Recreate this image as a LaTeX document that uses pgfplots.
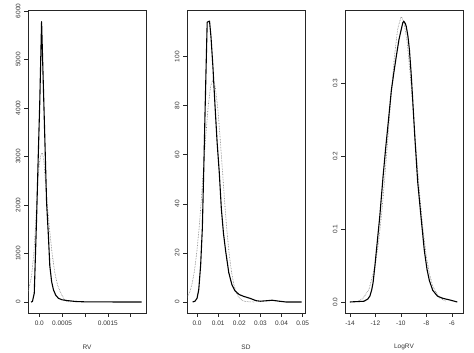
\documentclass[border=0pt]{standalone}
\usepackage{fontspec}
\setmainfont{Liberation Sans}
\usepackage{pgfplots}
\pgfplotsset{compat=1.18}
\begin{document}
\begin{tikzpicture}[x=1pt,y=1pt]
\useasboundingbox (0,0) rectangle (474,353);
\pgfplotsset{
  myax/.style={
    scale only axis, width=118pt, height=303pt, anchor=south west,
    axis line style={line width=0.7pt, black!85},
    tick align=outside, tick pos=left, major tick length=4pt,
    every tick/.style={black!85, line width=0.5pt},
    tick label style={font=\fontsize{6.5}{7.5}\selectfont, text=black!80},
    label style={font=\fontsize{6.5}{7.5}\selectfont, text=black!80},
    yticklabel style={rotate=90, anchor=south},
    xlabel style={at={(axis description cs:0.5,-0.112)}, anchor=center},
    scaled ticks=false,
    /pgf/number format/assume math mode=true,
  },
  solidc/.style={black, line width=1.1pt, line join=round},
  dotc/.style={black!55, densely dotted, line width=0.6pt},
}
% Panel 1: RV
\begin{axis}[myax, at={(28pt,40pt)},
  xmin=-0.000247, xmax=0.002335, ymin=-227, ymax=6020,
  xtick={0,0.0005,0.001,0.0015,0.002}, xticklabels={0.0,0.0005,,0.0015,},
  ytick={0,1000,2000,3000,4000,5000,6000},
  yticklabels={0,1000,2000,3000,4000,5000,6000},
  xlabel={RV}]
\addplot[dotc] coordinates {
(-0.000245,200) (-0.00022,320) (-0.00017,520) (-0.00012,1000) (-0.00008,1600)
(-0.00004,2400) (0,2850) (0.00004,3050) (0.00007,3070) (0.0001,2900)
(0.00014,2400) (0.00018,1950) (0.00023,1450) (0.00028,1000) (0.00034,600)
(0.0004,350) (0.00045,230) (0.0005,130) (0.00056,40) (0.0006,10) (0.0007,0)};
\addplot[solidc] coordinates {
(-0.00018,0) (-0.00015,10) (-0.00011,180) (-0.00006,1700) (-0.00002,3100)
(0.00001,4100) (0.00005,5780) (0.00011,3750) (0.00016,2050) (0.0002,1350)
(0.00023,750) (0.00027,420) (0.00031,250) (0.00036,140) (0.00042,75)
(0.0005,45) (0.0006,30) (0.0008,10) (0.001,3) (0.0015,1) (0.002,0) (0.00224,0)};
\end{axis}
% Panel 2: SD
\begin{axis}[myax, at={(187pt,40pt)},
  xmin=-0.00476, xmax=0.0511, ymin=-4.5, ymax=119,
  xtick={0,0.01,0.02,0.03,0.04,0.05}, xticklabels={0.0,0.01,0.02,0.03,0.04,0.05},
  ytick={0,20,40,60,80,100}, yticklabels={0,20,40,60,80,100},
  xlabel={SD}]
\addplot[dotc] coordinates {
(-0.0047,1.9) (-0.0046,2.07) (-0.0035,4.0) (-0.0024,7.2) (-0.0013,12.3)
(-0.0002,19.6) (0.0009,29.4) (0.002,41.5) (0.0031,55.0) (0.0042,68.4)
(0.0053,80.0) (0.0064,87.8) (0.0075,90.6) (0.0086,87.8) (0.0097,80.0)
(0.0108,68.4) (0.0119,55.0) (0.013,41.5) (0.0141,29.4) (0.0152,19.6)
(0.0163,12.3) (0.0174,7.2) (0.0185,4.0) (0.0196,2.07) (0.0207,1.0)
(0.0218,0.46) (0.0229,0.2) (0.0251,0.03) (0.027,0)};
\addplot[solidc] coordinates {
(-0.0021,0) (-0.001,0.3) (0,1.5) (0.0008,5) (0.0017,15) (0.0025,30)
(0.0032,55) (0.0038,78) (0.0044,100) (0.0048,114) (0.0059,114.5)
(0.0066,108) (0.0075,96) (0.0085,80) (0.0095,65) (0.0105,53) (0.0115,38)
(0.0125,28) (0.0135,21) (0.015,12) (0.0165,7) (0.018,4.5) (0.02,3)
(0.022,2.3) (0.025,1.5) (0.028,0.5) (0.03,0.3) (0.033,0.5) (0.0355,0.7)
(0.039,0.3) (0.042,0) (0.0495,0)};
\end{axis}
% Panel 3: LogRV
\begin{axis}[myax, at={(345pt,40pt)},
  xmin=-14.39, xmax=-5.12, ymin=-0.0151, ymax=0.4005,
  xtick={-14,-12,-10,-8,-6}, xticklabels={-14,-12,-10,-8,-6},
  ytick={0,0.1,0.2,0.3}, yticklabels={0.0,0.1,0.2,0.3},
  xlabel={LogRV}]
\addplot[dotc] coordinates {
(-13.3,0.0018) (-13,0.0045) (-12.5,0.0172) (-12,0.0519) (-11.75,0.0824)
(-11.5,0.123) (-11.25,0.1736) (-11,0.230) (-10.75,0.2875) (-10.5,0.338)
(-10.25,0.3745) (-10,0.3905) (-9.95,0.391) (-9.75,0.3836) (-9.5,0.3547)
(-9.25,0.309) (-9,0.2534) (-8.75,0.1957) (-8.5,0.1423) (-8.25,0.0975)
(-8,0.0629) (-7.75,0.0382) (-7.5,0.0218) (-7,0.006) (-6.5,0.0013)};
\addplot[solidc] coordinates {
(-14,0) (-13.5,0.0005) (-12.9,0.001) (-12.6,0.004) (-12.44,0.008)
(-12.3,0.016) (-12.18,0.027) (-12.05,0.048) (-11.92,0.071) (-11.66,0.117)
(-11.4,0.172) (-11.2,0.21) (-11.0,0.245) (-10.75,0.29) (-10.55,0.315)
(-10.36,0.337) (-10.15,0.36) (-9.97,0.374) (-9.85,0.383) (-9.77,0.385)
(-9.65,0.382) (-9.58,0.378) (-9.45,0.365) (-9.33,0.346) (-9.2,0.315)
(-9.07,0.277) (-8.9,0.225) (-8.68,0.165) (-8.42,0.117) (-8.16,0.071)
(-7.95,0.045) (-7.77,0.030) (-7.5,0.016) (-7.12,0.008) (-6.7,0.005)
(-6.21,0.003) (-5.57,0)};
\end{axis}
\end{tikzpicture}
\end{document}
